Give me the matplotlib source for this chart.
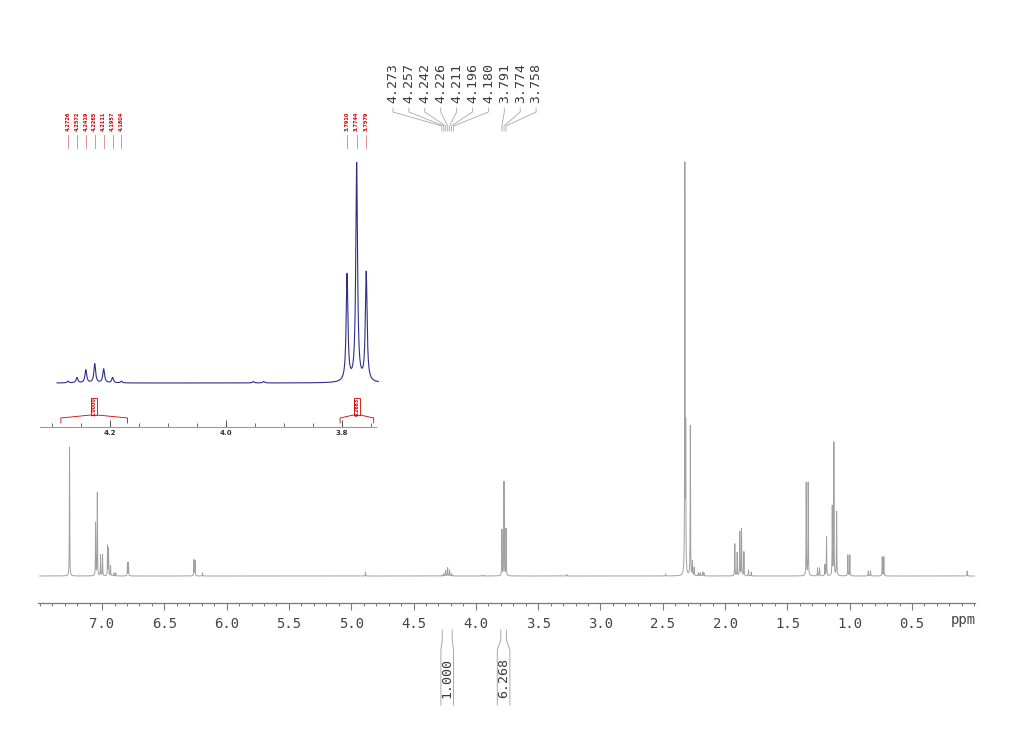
import numpy as np
import matplotlib
matplotlib.use("Agg")
import matplotlib.pyplot as plt
from matplotlib.ticker import MultipleLocator, FixedLocator, FormatStrFormatter
from matplotlib.lines import Line2D
from matplotlib.patches import Rectangle

# ---------------- data ----------------
peak_ppm = [7.261, 7.052, 7.038, 7.012, 6.996, 6.956, 6.948, 6.932, 6.905, 6.890,
            6.796, 6.788, 6.262, 6.254, 6.194, 4.886,
            4.2726, 4.2572, 4.2419, 4.2265, 4.2111, 4.1957, 4.1804,
            3.953, 3.935, 3.7910, 3.7744, 3.7579, 3.270, 2.478,
            2.323, 2.316, 2.279, 2.262, 2.248, 2.215, 2.200, 2.180, 2.170,
            1.922, 1.903, 1.882, 1.868, 1.849, 1.812, 1.790,
            1.349, 1.333, 1.258, 1.242, 1.199, 1.186,
            1.140, 1.127, 1.105, 1.015, 0.999, 0.851, 0.833,
            0.739, 0.726, 0.057]
peak_height = [129, 53, 83, 21, 21, 30, 27, 10, 3, 3,
               13, 13, 16, 15, 3, 4,
               0.7, 2.3, 5.6, 8.2, 6.0, 2.3, 0.7,
               0.6, 0.6, 46, 94, 47, 1.5, 2,
               408, 140, 150, 14, 8, 3, 3, 4, 3,
               32, 23, 44, 47, 24, 6, 4,
               93, 93, 8, 8, 11, 39,
               69, 133, 64, 21, 21, 5, 5,
               19, 19, 5]

main_ticks = [7.0, 6.5, 6.0, 5.5, 5.0, 4.5, 4.0, 3.5, 3.0, 2.5, 2.0, 1.5, 1.0, 0.5]
inset_ticks = [4.2, 4.0, 3.8]

top_labels = ["4.273", "4.257", "4.242", "4.226", "4.211", "4.196", "4.180",
              "3.791", "3.774", "3.758"]
top_label_ppm = [4.273, 4.257, 4.242, 4.226, 4.211, 4.196, 4.180, 3.791, 3.774, 3.758]

inset_labels = ["4.2726", "4.2572", "4.2419", "4.2265", "4.2111", "4.1957", "4.1804",
                "3.7910", "3.7744", "3.7579"]
inset_label_ppm = [4.2726, 4.2572, 4.2419, 4.2265, 4.2111, 4.1957, 4.1804,
                   3.7910, 3.7744, 3.7579]

integral_start = [4.285, 3.803]
integral_end = [4.170, 3.745]
integral_main = ["1.000", "6.268"]
integral_inset = ["1.0000", "6.2683"]

# ---------------- figure ----------------
W, H = 1024, 734
fig = plt.figure(figsize=(W / 100, H / 100), dpi=100)
fig.patch.set_facecolor("white")


def fx(px):
    return px / W


def fy(py):
    return 1 - py / H


def spectrum(x, gamma):
    y = np.zeros_like(x)
    for p, h in zip(peak_ppm, peak_height):
        y += h / (1.0 + ((x - p) / gamma) ** 2)
    return y


def data_fx(axes, v):
    disp = axes.transData.transform((v, 0))
    return fig.transFigure.inverted().transform(disp)[0]


def fline(xs, ys, **kw):
    fig.add_artist(Line2D(xs, ys, transform=fig.transFigure, **kw))


mono = "DejaVu Sans Mono"

# ---------------- main spectrum ----------------
ax = fig.add_axes([fx(38), fy(603), fx(975) - fx(38), (603 - 150) / H])
ax.patch.set_visible(False)
ax.set_xlim(7.514, -0.0056)
ax.set_ylim(-27, 426)
xs = np.linspace(7.50, 0.0, 90000)
ax.plot(xs, spectrum(xs, 0.0015), color="#a0a0a0", lw=0.7)
for s in ["top", "left", "right"]:
    ax.spines[s].set_visible(False)
ax.spines["bottom"].set_color("#7a7a7a")
ax.spines["bottom"].set_linewidth(0.9)
ax.set_yticks([])
ax.xaxis.set_major_locator(FixedLocator(main_ticks))
ax.xaxis.set_minor_locator(MultipleLocator(0.1))
ax.xaxis.set_major_formatter(FormatStrFormatter("%.1f"))
ax.tick_params(axis="x", which="major", length=5, width=0.8, color="#7a7a7a",
               pad=5, labelsize=10, labelcolor="#444444")
ax.tick_params(axis="x", which="minor", length=2.5, width=0.7, color="#7a7a7a")
for lab in ax.get_xticklabels():
    lab.set_fontfamily(mono)
fig.text(fx(963), fy(620), "ppm", ha="center", va="center", fontsize=10,
         family=mono, color="#444444")

# top peak labels with leader lines
for i, (t, p) in enumerate(zip(top_labels, top_label_ppm)):
    lx = fx(393 + 15.9 * i)
    fig.text(lx, fy(103), t, rotation=90, ha="center", va="bottom",
             fontsize=9.5, family=mono, color="#3a3a3a")
    px = data_fx(ax, p)
    fline([lx, lx, px, px], [fy(108), fy(112), fy(126), fy(131)],
          color="#a8a8a8", lw=0.6)

# integrals under the axis
main_int_lo = [4.27, 3.80]
main_int_hi = [4.19, 3.755]
for a, b, t in zip(main_int_lo, main_int_hi, integral_main):
    xa, xb = data_fx(ax, a), data_fx(ax, b)
    xc = (xa + xb) / 2
    hw = fx(6.3)
    fline([xa, xa, xc - hw, xc - hw], [fy(630), fy(640), fy(650), fy(705)],
          color="#a8a8a8", lw=0.7)
    fline([xb, xb, xc + hw, xc + hw], [fy(630), fy(640), fy(650), fy(705)],
          color="#a8a8a8", lw=0.7)
    fig.text(xc, fy(678), t, rotation=90, ha="center", va="center",
             fontsize=9.5, family=mono, color="#3a3a3a")

# ---------------- inset ----------------
axi = fig.add_axes([fx(40), fy(427), fx(376) - fx(40), (427 - 150) / H])
axi.patch.set_visible(False)
axi.set_xlim(4.321, 3.741)
axi.set_ylim(-(427 - 383) / 2.32, (383 - 150) / 2.32)
xi = np.linspace(4.2915, 3.737, 8000)
axi.plot(xi, spectrum(xi, 0.0018), color="#2e2e8c", lw=0.8, clip_on=False)
for s in ["top", "left", "right"]:
    axi.spines[s].set_visible(False)
axi.spines["bottom"].set_color("#9a9a9a")
axi.spines["bottom"].set_linewidth(0.8)
axi.set_yticks([])
axi.xaxis.set_major_locator(FixedLocator(inset_ticks))
axi.xaxis.set_minor_locator(MultipleLocator(0.05))
axi.xaxis.set_major_formatter(FormatStrFormatter("%.1f"))
axi.tick_params(axis="x", which="major", direction="in", length=5, width=0.7,
                color="#555555", pad=2, labelsize=5, labelcolor="#333333")
axi.tick_params(axis="x", which="minor", direction="in", length=3, width=0.6,
                color="#555555")
for lab in axi.get_xticklabels():
    lab.set_fontweight("bold")

red = "#d10000"
for t, p in zip(inset_labels, inset_label_ppm):
    px = data_fx(axi, p)
    fig.text(px, fy(131), t, rotation=90, ha="center", va="bottom",
             fontsize=3.6, fontweight="bold", color=red)
    fline([px, px], [fy(135), fy(148)], color="#d98080", lw=0.6)

for a, b, t in zip(integral_start, integral_end, integral_inset):
    xa, xb = data_fx(axi, a), data_fx(axi, b)
    xc = (xa + xb) / 2
    hw = fx(3.3)
    fline([xa, xa, xc - hw], [fy(423), fy(418), fy(415)], color=red, lw=0.6)
    fline([xb, xb, xc + hw], [fy(423), fy(418), fy(415)], color=red, lw=0.6)
    fig.add_artist(Rectangle((xc - hw, fy(415)), 2 * hw, fy(398) - fy(415),
                             transform=fig.transFigure, fill=False,
                             edgecolor=red, lw=0.6))
    fig.text(xc, fy(406.5), t, rotation=90, ha="center", va="center",
             fontsize=3.4, fontweight="bold", color=red)

fig.savefig("out.png", dpi=100, facecolor="white")
